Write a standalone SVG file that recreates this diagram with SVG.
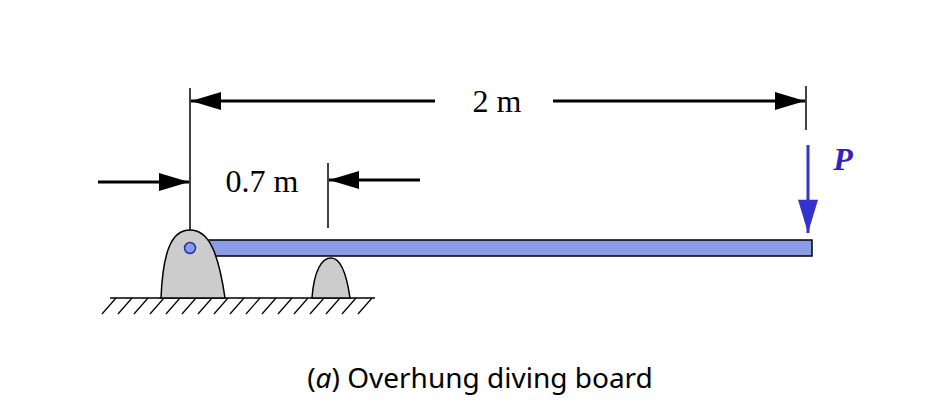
<svg xmlns="http://www.w3.org/2000/svg" width="928" height="402" viewBox="0 0 928 402">
<style>
.d{stroke:#000;stroke-width:3;fill:none}
.t{stroke:#000;stroke-width:1.5;fill:none}
.s{fill:#cccccc;stroke:#000;stroke-width:1.5}
.h{stroke:#000;stroke-width:1.2}
</style>
<defs>
<marker id="ab" viewBox="0 0 10 6" refX="10" refY="3" markerWidth="42" markerHeight="18" markerUnits="userSpaceOnUse" orient="auto"><path d="M0,0 L10,3 L0,6 Z" fill="#000"/></marker>
<marker id="ap" viewBox="0 0 10 6" refX="10" refY="3" markerWidth="38" markerHeight="20" markerUnits="userSpaceOnUse" orient="auto"><path d="M0,0 L10,3 L0,6 Z" fill="#3333cc"/></marker>
</defs>
<g id="ground">
<line x1="110" y1="298" x2="375" y2="298" class="t"/>
<path class="h" d="M102,314 L116,298 M118,314 L132,298 M134,314 L148,298 M150,314 L164,298 M166,314 L180,298 M182,314 L196,298 M198,314 L212,298 M214,314 L228,298 M230,314 L244,298 M246,314 L260,298 M262,314 L276,298 M278,314 L292,298 M294,314 L308,298 M310,314 L324,298 M326,314 L340,298 M342,314 L356,298 M358,314 L372,298"/>
</g>
<g id="beam"><rect x="195" y="240" width="617" height="16" fill="#8c9be6" stroke="#000" stroke-width="1.5"/></g>
<g id="pin-support"><path class="s" d="M161,298 C163,250 172,230 190,230 C208,230 218,250 225,298 Z"/><circle cx="190" cy="248" r="5.5" fill="#8899ee" stroke="#223399" stroke-width="1.5"/></g>
<g id="roller-support"><path class="s" d="M312,298 C314,270 322,258 331,258 C340,258 346,270 350,298 Z"/></g>
<g id="connectors">
<line x1="190" y1="88" x2="190" y2="230" class="t"/>
<line x1="328" y1="163" x2="328" y2="228" class="t"/>
<line x1="806" y1="86" x2="806" y2="130" class="t"/>
<line x1="435" y1="101" x2="191" y2="101" class="d" marker-end="url(#ab)"/>
<line x1="553" y1="101" x2="805" y2="101" class="d" marker-end="url(#ab)"/>
<line x1="98" y1="182" x2="189" y2="182" class="d" marker-end="url(#ab)"/>
<line x1="420" y1="180" x2="329" y2="180" class="d" marker-end="url(#ab)"/>
<line x1="808" y1="145" x2="808" y2="233" stroke="#3333cc" stroke-width="3" marker-end="url(#ap)"/>
</g>
<g font-family="Liberation Serif, serif" font-size="32">
<text x="497" y="112" text-anchor="middle">2 m</text>
<text x="262" y="192" text-anchor="middle">0.7 m</text>
<text x="843" y="170" text-anchor="middle" fill="#3322bb" font-weight="bold" font-style="italic">P</text>
</g>
<text x="480" y="388" text-anchor="middle" font-family="Noto Sans, sans-serif" font-size="28">(<tspan font-style="italic">a</tspan>)  Overhung diving board</text>
</svg>
